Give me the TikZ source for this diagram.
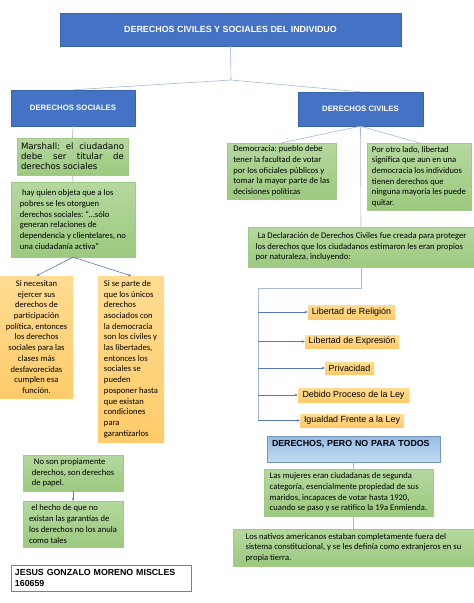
\documentclass[tikz,border=0pt]{standalone}
\usepackage{fontspec}
\setmainfont{Carlito}
\newfontfamily\arialf{Liberation Sans}
\newfontfamily\verdf{DejaVu Sans}
\usetikzlibrary{arrows.meta}
\frenchspacing
\hyphenpenalty=10000
\definecolor{bl}{HTML}{4472C4}
\definecolor{bldark}{HTML}{3A64AE}
\definecolor{grtop}{HTML}{B4D89E}
\definecolor{grbot}{HTML}{9CC97F}
\definecolor{grline}{HTML}{A0C98A}
\definecolor{ortop}{HTML}{FFDC92}
\definecolor{orbot}{HTML}{FFCB6A}
\definecolor{lbtop}{HTML}{95BDE6}
\definecolor{lbbot}{HTML}{C3D9F0}
\definecolor{conn}{HTML}{A7B8D8}
\definecolor{arr}{HTML}{5677BD}
\begin{document}
\begin{tikzpicture}[x=1pt,y=-1pt,
  bluebox/.style={draw=bldark,line width=0.4pt,fill=bl,inner sep=0pt,text=white,
    font=\arialf\bfseries\fontsize{7.8}{9}\selectfont},
  greenbox/.style={draw=grline,line width=0.3pt,top color=grtop,bottom color=grbot,
    inner sep=0pt,align=left,font=\fontsize{8.6}{10.7}\selectfont},
  orangebox/.style={draw=none,top color=ortop,bottom color=orbot,
    inner sep=0pt,font=\fontsize{8.6}{10.7}\selectfont},
  yelbox/.style={draw=none,top color=ortop,bottom color=orbot,inner sep=0pt,
    font=\arialf\fontsize{8.9}{10}\selectfont},
  connline/.style={draw=conn,line width=0.6pt},
  arrline/.style={draw=arr,line width=0.6pt,-{Stealth[length=3pt,width=2.6pt]}}
]
\useasboundingbox[fill=white] (0,0) rectangle (474,603);

% title
\node[bluebox,minimum width=341,minimum height=33,
  font=\arialf\bfseries\fontsize{8.9}{10}\selectfont] (top) at (230.5,29.5)
  {DERECHOS CIVILES Y SOCIALES DEL INDIVIDUO};
\node[bluebox,minimum width=124,minimum height=36] (ds) at (73,108) {DERECHOS SOCIALES};
\node[bluebox,minimum width=125,minimum height=34] (dc) at (360.5,109) {DERECHOS CIVILES};

\coordinate (j1) at (231,80);
\draw[connline] (top.south) -- (j1) -- (ds.north);
\draw[connline] (j1) -- (dc.north);

% left column
\node[greenbox,minimum width=111,minimum height=37,text width=103,
  font=\verdf\fontsize{8.6}{9.8}\selectfont] (marsh) at (72.5,156.5)
  {Marshall:\hfill el\hfill ciudadano\\
   debe\hfill ser\hfill titular\hfill de\\
   derechos sociales};
\node[greenbox,minimum width=124,minimum height=75] (hay) at (73,219.5)
  {\hspace*{2.2pt}hay quien objeta que a los\\
   pobres se les otorguen\\
   derechos sociales: “…sólo\\
   generan relaciones de\\
   dependencia y clientelares, no\\
   una ciudadanía activa”};
\draw[connline] (ds.south) -- (marsh.north);
\draw[connline] (marsh.south) -- (hay.north);

\node[orangebox,minimum width=73,minimum height=122,align=center] (orl) at (36.5,337)
  {Si necesitan\\ ejercer sus\\ derechos de\\ participación\\ política, entonces\\ los derechos\\
   sociales para las\\ clases más\\ desfavorecidas\\ cumplen esa\\ función.};
\node[orangebox,minimum width=66,minimum height=166,align=left] (orr) at (131,359)
  {Si se parte de\\ que los únicos\\ derechos\\ asociados con\\ la democracia\\ son los civiles y\\
   las libertades,\\ entonces los\\ sociales se\\ pueden\\ posponer hasta\\ que existan\\
   condiciones\\ para\\ garantizarlos};
\draw[arrline] (hay.south) -- (orl.north);
\draw[arrline] (hay.south) -- (orr.north);

\node[greenbox,minimum width=100,minimum height=36] (noson) at (73,473)
  {\hspace*{2.2pt}No son propiamente\\ derechos, son derechos\\ de papel.};
\node[greenbox,minimum width=100,minimum height=46] (hecho) at (73,524)
  {\hspace*{2.2pt}el hecho de que no\\ existan las garantías de\\ los derechos no los anula\\ como tales};
\draw[arrline] (noson.south) -- (hecho.north);

\node[draw=black!50,line width=0.9pt,fill=white,inner sep=0pt,minimum width=180,minimum height=26,
  text width=172,align=left,font=\arialf\bfseries\fontsize{8.8}{10.7}\selectfont] (name) at (101,578)
  {JESUS GONZALO MORENO MISCLES\\ 160659};

% right column
\node[greenbox,minimum width=109,minimum height=56] (demo) at (281.5,171)
  {Democracia: pueblo debe\\ tener la facultad de votar\\ por los oficiales públicos y\\
   tomar la mayor parte de las\\ decisiones políticas};
\node[greenbox,minimum width=104,minimum height=67] (otro) at (419,176.5)
  {Por otro lado, libertad\\ significa que aun en una\\ democracia los individuos\\
   tienen derechos que\\ ninguna mayoría les puede\\ quitar.};
\draw[connline] (dc.south) -- (demo.north);
\draw[connline] (dc.south) -- (otro.north);

\node[greenbox,minimum width=226,minimum height=40] (decl) at (361,247)
  {\hspace*{2.2pt}La Declaración de Derechos Civiles fue creada para proteger\\
   los derechos que los ciudadanos estimaron les eran propios\\
   por naturaleza, incluyendo:};
\draw[connline] (dc.south) -- (decl.north);

\node[yelbox,minimum width=87,minimum height=14] (rel) at (351.5,312) {Libertad de Religión};
\node[yelbox,minimum width=94,minimum height=13] (exp) at (352,341.5) {Libertad de Expresión};
\node[yelbox,minimum width=49,minimum height=12] (priv) at (349.5,368) {Privacidad};
\node[yelbox,minimum width=111,minimum height=14] (deb) at (353.5,395) {Debido Proceso de la Ley};
\node[yelbox,minimum width=104,minimum height=13] (igu) at (352,420.5) {Igualdad Frente a la Ley};

\coordinate (b1) at (361,288);
\coordinate (b2) at (258,288);
\draw[connline] (decl.south) -- (b1) -- (b2) -- (b2 |- igu.west);
\foreach \n in {rel,exp,priv,deb,igu}
  \draw[arrline] (b2 |- \n.west) -- (\n.west);

\node[draw=lbtop!80!black,line width=0.3pt,top color=lbtop,bottom color=lbbot,inner sep=0pt,
  minimum width=173,text width=163,align=left,text height=10.8pt,text depth=15.2pt,
  font=\arialf\bfseries\fontsize{8.8}{10}\selectfont] (dpnt) at (353.5,449)
  {DERECHOS, PERO NO PARA TODOS};
\node[greenbox,minimum width=169,minimum height=47] (muj) at (348.5,492.5)
  {Las mujeres eran ciudadanas de segunda\\ categoría, esencialmente propiedad de sus\\
   maridos, incapaces de votar hasta 1920,\\ cuando se paso y se ratifico la 19a Enmienda.};
\node[greenbox,minimum width=241,minimum height=37] (nat) at (353.5,547.5)
  {Los nativos americanos estaban completamente fuera del\\
   sistema constitucional, y se les definía como extranjeros en su\\ propia tierra.};
\draw[connline] (dpnt.south) -- (dpnt.south |- muj.north);
\draw[connline] (muj.south -| dpnt.south) -- (nat.north -| dpnt.south);
\end{tikzpicture}
\end{document}
